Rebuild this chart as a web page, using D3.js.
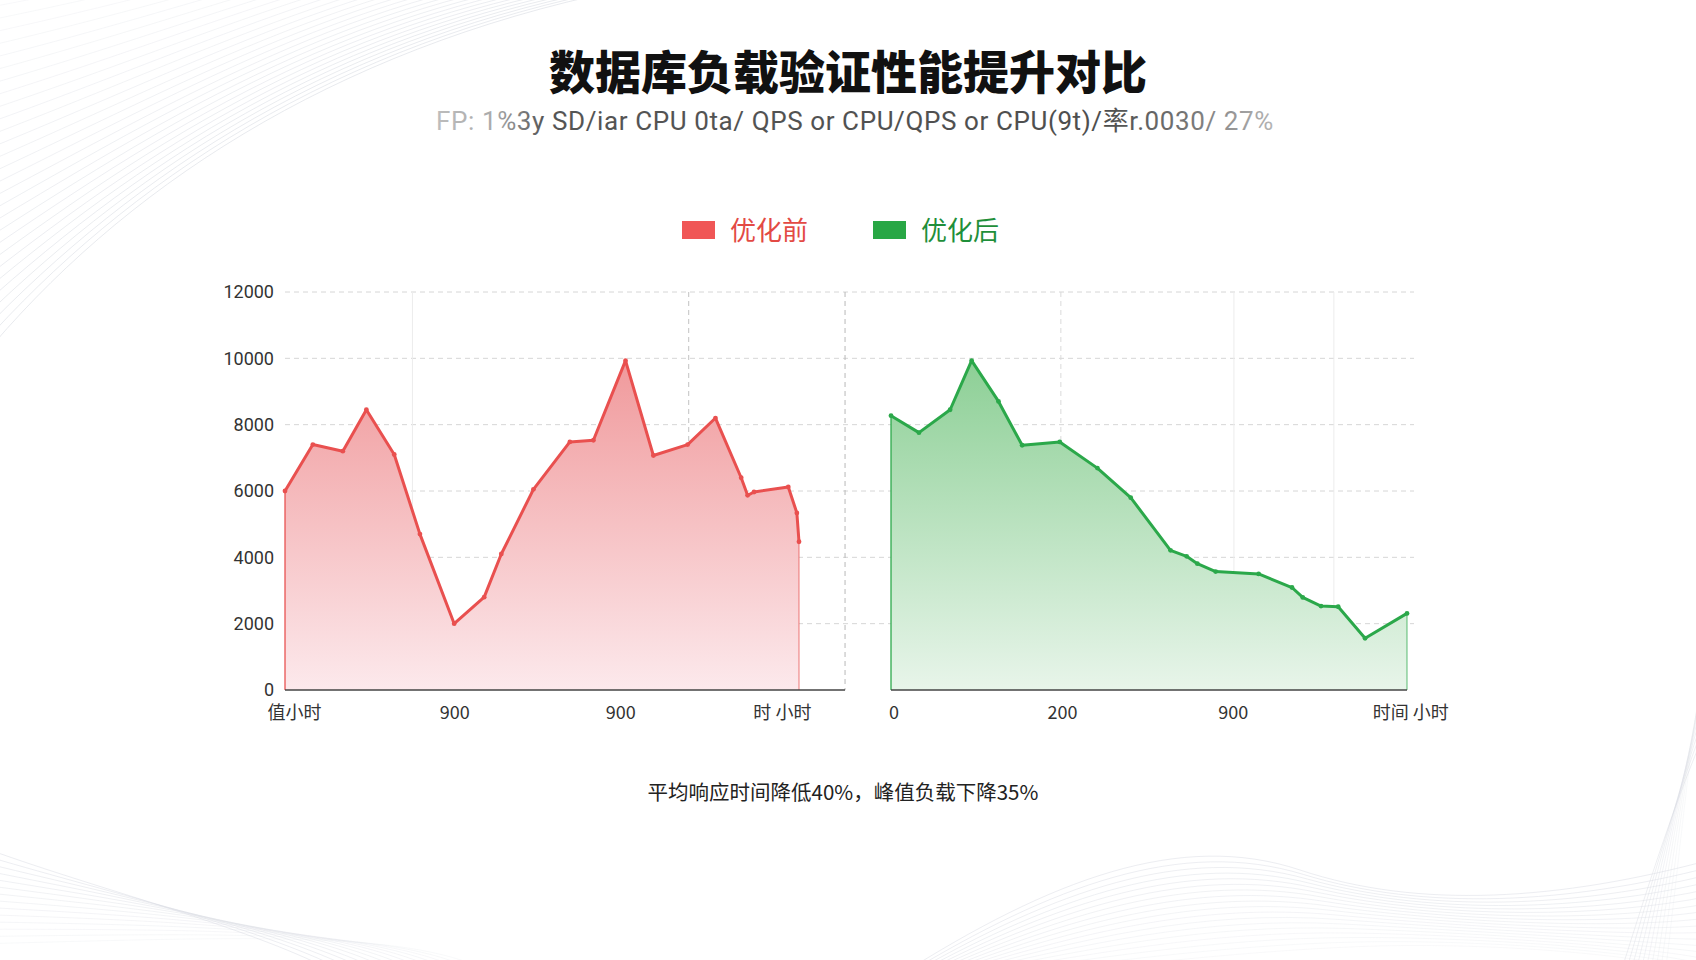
<!DOCTYPE html>
<html><head><meta charset="utf-8">
<script src="https://cdn.jsdelivr.net/npm/d3@7"></script>
<style>
html,body{margin:0;padding:0;background:#fff;}
svg{display:block;}
</style></head>
<body>
<svg id="c" width="1696" height="960"></svg>
<script>
// ---------- data ----------
const titleText = "数据库负载验证性能提升对比";
const subtitleText = "FP: 1%3y SD/iar CPU 0ta/ QPS or CPU/QPS or CPU(9t)/率r.0030/ 27%";
const noteText = "平均响应时间降低40%，峰值负载下降35%";
const seriesNames = ["优化前", "优化后"];
const yTicks = [0, 2000, 4000, 6000, 8000, 10000, 12000];

// 优化前 (left panel), time in hours
const beforeT = [0, 1.3, 2.7, 3.8, 5.1, 6.3, 7.9, 9.3, 10.1, 11.6, 13.3, 14.4, 15.9, 17.2, 18.8, 20.1, 21.3, 21.6, 21.9, 23.5, 23.9, 24];
const beforeV = [6000, 7400, 7200, 8450, 7100, 4700, 2000, 2800, 4100, 6050, 7480, 7530, 9930, 7070, 7400, 8200, 6400, 5870, 5970, 6120, 5340, 4470];
// 优化后 (right panel)
const afterT = [0, 1.3, 2.75, 3.75, 5.0, 6.1, 7.85, 9.6, 11.15, 13.0, 13.75, 14.25, 15.1, 17.1, 18.65, 19.15, 20.0, 20.8, 22.05, 24];
const afterV = [8270, 7760, 8450, 9930, 8700, 7380, 7480, 6690, 5800, 4210, 4030, 3810, 3570, 3500, 3090, 2790, 2530, 2510, 1560, 2310];

// x tick labels
const leftTickT = [0.42, 7.9, 15.65, 23.2];
const leftTickLabels = ["值小时", "900", "900", "时 小时"];
const rightTickT = [0.12, 7.95, 15.9, 24.15];
const rightTickLabels = ["0", "200", "900", "时间 小时"];

// vertical grid positions (hours)
const leftGridT = [5.95, 18.85];
const dividerT = 26.15;
const rightGridT = [7.9, 15.95, 20.6];

// ---------- layout ----------
const svg = d3.select("#c");
const y = d3.scaleLinear().domain([0, 12000]).range([690, 292]);
const xL = d3.scaleLinear().domain([0, 24]).range([285, 799]);
const xR = d3.scaleLinear().domain([0, 24]).range([891, 1407]);
const gridRight = 1414;

const defs = svg.append("defs");

// background decorations
const deco = svg.append("g").attr("fill", "none").attr("stroke", "#d9dce3").attr("stroke-width", 1);
for (let i = 0; i < 30; i++) {
  const o = i * 13;
  deco.append("path").attr("opacity", 0.6 - i * 0.015)
    .attr("d", `M${-20} ${360 - o} C ${120 + o * 0.6} ${190 - o * 0.7}, ${330 + o * 0.4} ${50 - o * 0.5}, ${620 + o * 0.3} ${-10 - o * 0.2}`);
}
for (let i = 0; i < 14; i++) {
  const o = i * 12;
  deco.append("path").attr("opacity", 0.5 - i * 0.025)
    .attr("d", `M${-10} ${850 + o * 0.6} C ${100 + o} ${890 + o * 0.3}, ${260 + o} ${930}, ${340 + o} ${975}`);
}
for (let i = 0; i < 18; i++) {
  const o = i * 9;
  deco.append("path").attr("opacity", 0.5 - i * 0.02)
    .attr("d", `M${900 + o * 0.5} ${975} C ${1050 + o * 0.3} ${880 + o * 0.6}, ${1180 + o * 0.2} ${830 + o * 0.8}, ${1300 + o * 0.4} ${870 + o * 0.5} S ${1560 + o} ${900 + o * 0.4}, ${1710} ${860 + o * 0.8}`);
}
for (let i = 0; i < 10; i++) {
  const o = i * 10;
  deco.append("path").attr("opacity", 0.45 - i * 0.03)
    .attr("d", `M${1620 + o * 0.5} ${975} C ${1650 + o * 0.3} ${880}, ${1675 + o * 0.2} ${800 - o}, ${1710} ${720 - o}`);
}

// title
svg.append("text").attr("x", 848).attr("y", 89).attr("text-anchor", "middle")
  .attr("font-family", "'Noto Sans CJK SC', sans-serif").attr("font-weight", 900)
  .attr("font-size", 46).attr("fill", "#111").text(titleText);

// subtitle with faded ends
const sg = defs.append("linearGradient").attr("id", "subg").attr("gradientUnits", "userSpaceOnUse")
  .attr("x1", 436).attr("x2", 1274).attr("y1", 0).attr("y2", 0);
[[0, "#bdbdbd"], [0.07, "#aaa"], [0.13, "#555"], [0.8, "#4e4e4e"], [0.9, "#777"], [1, "#b5b5b5"]]
  .forEach(([o, c]) => sg.append("stop").attr("offset", o).attr("stop-color", c));
svg.append("text").attr("x", 855).attr("y", 130).attr("text-anchor", "middle")
  .attr("font-family", "Roboto, 'Noto Sans CJK SC', sans-serif")
  .attr("font-size", 26).attr("letter-spacing", 0.6).attr("fill", "url(#subg)").text(subtitleText);

// legend
const legendColors = ["#f05656", "#28a745"];
const legendText = ["#e34a44", "#1f8f3a"];
const legendX = [682, 873];
seriesNames.forEach((n, i) => {
  svg.append("rect").attr("x", legendX[i]).attr("y", 221).attr("width", 33).attr("height", 18)
    .attr("fill", legendColors[i]);
  svg.append("text").attr("x", legendX[i] + 48).attr("y", 240)
    .attr("font-family", "'Noto Sans CJK SC', sans-serif").attr("font-size", 26)
    .attr("fill", legendText[i]).text(n);
});

// gradients for areas
function vgrad(id, top, bottom) {
  const g = defs.append("linearGradient").attr("id", id).attr("gradientUnits", "userSpaceOnUse")
    .attr("x1", 0).attr("x2", 0).attr("y1", y(10000)).attr("y2", y(0));
  g.append("stop").attr("offset", 0).attr("stop-color", top);
  g.append("stop").attr("offset", 1).attr("stop-color", bottom);
}
vgrad("redFill", "#f0999b", "#fce9ec");
vgrad("greenFill", "#8ccf95", "#e8f5ea");

// horizontal gridlines
const grid = svg.append("g");
grid.selectAll("line.h").data(yTicks.filter(d => d > 0)).join("line")
  .attr("x1", 285).attr("x2", gridRight).attr("y1", d => y(d)).attr("y2", d => y(d))
  .attr("stroke", "#d6d6d6").attr("stroke-dasharray", "5,4").attr("stroke-width", 1);

// vertical gridlines
grid.selectAll("line.vl").data(leftGridT).join("line")
  .attr("x1", d => xL(d)).attr("x2", d => xL(d)).attr("y1", y(12000)).attr("y2", y(0))
  .attr("stroke", (d, i) => i === 0 ? "#ececec" : "#c2c2c2")
  .attr("stroke-dasharray", (d, i) => i === 0 ? null : "5,4");
grid.append("line").attr("x1", xL(dividerT)).attr("x2", xL(dividerT)).attr("y1", y(12000)).attr("y2", y(0))
  .attr("stroke", "#b8b8b8").attr("stroke-dasharray", "5,4");
grid.selectAll("line.vr").data(rightGridT).join("line")
  .attr("x1", d => xR(d)).attr("x2", d => xR(d)).attr("y1", y(12000)).attr("y2", y(0))
  .attr("stroke", (d, i) => i === 0 ? "#dadada" : "#ececec")
  .attr("stroke-dasharray", (d, i) => i === 0 ? "5,4" : null);

// areas and lines
function panel(T, V, x, fillId, color) {
  const data = T.map((t, i) => ({ t, v: V[i] }));
  const area = d3.area().x(d => x(d.t)).y0(y(0)).y1(d => y(d.v));
  const line = d3.line().x(d => x(d.t)).y(d => y(d.v));
  svg.append("path").datum(data).attr("d", area).attr("fill", `url(#${fillId})`);
  svg.append("line").attr("x1", x(T[0])).attr("x2", x(T[0])).attr("y1", y(V[0])).attr("y2", y(0))
    .attr("stroke", color).attr("stroke-width", 1.5).attr("opacity", 0.85);
  svg.append("line").attr("x1", x(T[T.length - 1])).attr("x2", x(T[T.length - 1]))
    .attr("y1", y(V[V.length - 1])).attr("y2", y(0))
    .attr("stroke", color).attr("stroke-width", 1.5).attr("opacity", 0.5);
  svg.append("path").datum(data).attr("d", line).attr("fill", "none")
    .attr("stroke", color).attr("stroke-width", 3).attr("stroke-linejoin", "round");
  svg.append("g").selectAll("circle").data(data).join("circle")
    .attr("cx", d => x(d.t)).attr("cy", d => y(d.v)).attr("r", 2.4).attr("fill", color);
}
panel(beforeT, beforeV, xL, "redFill", "#e9504f");
panel(afterT, afterV, xR, "greenFill", "#2ba84a");

// axes
const fontAxis = "Roboto, 'Noto Sans CJK SC', sans-serif";
const yAxis = svg.append("g").attr("transform", "translate(285,0)")
  .call(d3.axisLeft(y).tickValues(yTicks).tickFormat(d3.format("d")).tickSize(0).tickPadding(11));
yAxis.select(".domain").remove();
yAxis.selectAll("text").attr("font-family", fontAxis).attr("font-size", 18).attr("fill", "#333");

function xAxis(x, ticks, labels, x0, x1) {
  const g = svg.append("g").attr("transform", `translate(0,${y(0)})`)
    .call(d3.axisBottom(x).tickValues(ticks).tickFormat((d, i) => labels[i]).tickSize(0).tickPadding(16));
  g.select(".domain").remove();
  g.selectAll("text").attr("font-family", "'Noto Sans CJK SC', sans-serif").attr("font-size", 18).attr("fill", "#333");
  svg.append("line").attr("x1", x0).attr("x2", x1).attr("y1", y(0)).attr("y2", y(0))
    .attr("stroke", "#444").attr("stroke-width", 1.6);
}
xAxis(xL, leftTickT, leftTickLabels, xL(0), xL(dividerT));
xAxis(xR, rightTickT, rightTickLabels, xR(0), xR(24));

// note
svg.append("text").attr("x", 843).attr("y", 800).attr("text-anchor", "middle")
  .attr("font-family", "'Noto Sans CJK SC', sans-serif").attr("font-size", 20.5)
  .attr("fill", "#222").text(noteText);
</script>
</body></html>
